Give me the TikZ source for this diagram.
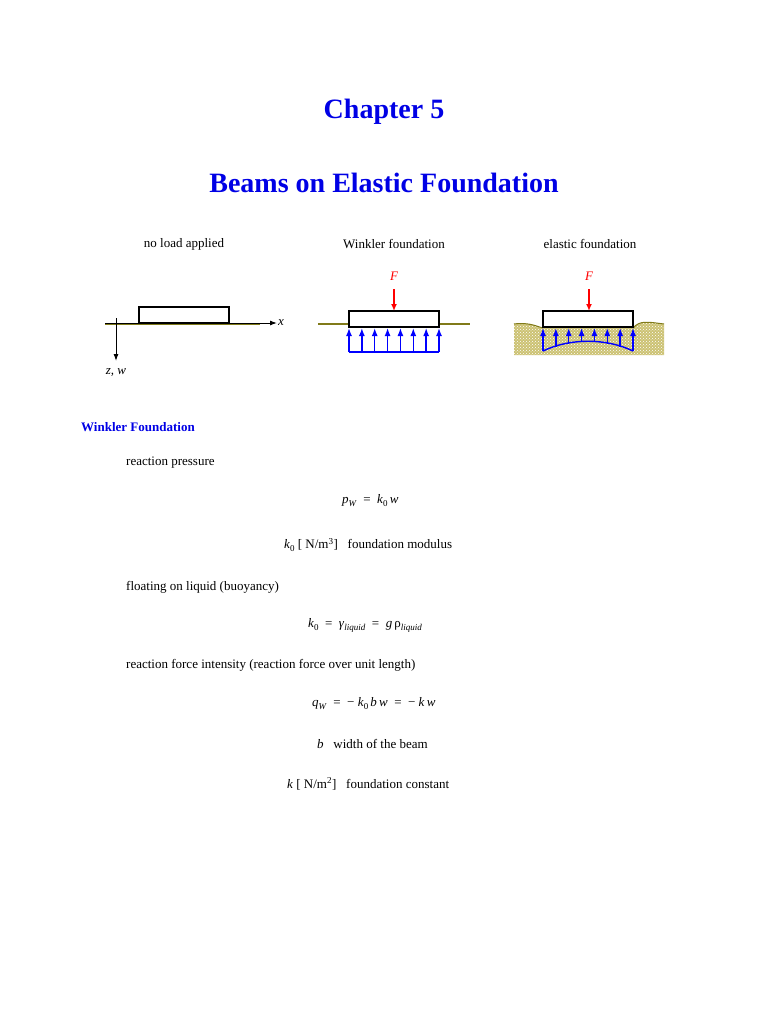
\documentclass[tikz,border=0pt]{standalone}
\usepackage{fontspec}
\setmainfont{Liberation Serif}
\usetikzlibrary{arrows.meta,patterns}
\definecolor{ttl}{rgb}{0,0,0.9}
\definecolor{soil}{rgb}{0.80,0.76,0.45}
\definecolor{olv}{rgb}{0.5,0.48,0.1}
\tikzset{
  txt/.style={anchor=west,inner sep=0pt,font=\fontsize{13}{15}\selectfont},
  ttlnode/.style={text=ttl,font=\fontsize{28}{32}\selectfont\bfseries},
  beam/.style={draw=black,line width=1.6pt,fill=white},
  load/.style={draw=red,line width=1.4pt,-{Latex[length=7pt,width=6pt]}},
  react/.style={draw=blue,line width=1.4pt,-{Latex[length=8pt,width=6pt]}}
}
\begin{document}
\begin{tikzpicture}[x=1pt,y=-1pt]
\useasboundingbox (0,0) rectangle (768,1024);
% titles
\node[ttlnode] (chap) at (384,112) {Chapter 5};
\node[ttlnode] (ttl) at (384,183) {Beams on Elastic Foundation};
\begin{scope}[every node/.style={font=\fontsize{13}{15}\selectfont}]
    \node (l1) at (184,244) {no load applied};
    \node (l2) at (394,244) {Winkler foundation};
    \node (l3) at (590,244) {elastic foundation};
\end{scope}
% no load
\draw[olv,line width=1.4pt] (105,324.5) -- (260,324.5);
\coordinate (o) at (105,323);
\coordinate (xe) at (277,323);
\coordinate (zs) at (116,318);
\coordinate (ze) at (116,361);
\draw[line width=1pt,-{Latex[length=7pt,width=5pt]}] (o) -- (xe);
\node[anchor=west,inner sep=1pt,font=\fontsize{13}{15}\selectfont\itshape] (xl) at (xe) {x};
\draw[line width=1pt,-{Latex[length=7pt,width=5pt]}] (zs) -- (ze);
\node[font=\fontsize{13}{15}\selectfont\itshape] (zl) at (116,373) {z, w};
\draw[beam] (139,307) rectangle (229,323);
% winkler
\draw[olv,line width=1.4pt] (318,324) -- (470,324);
\draw[beam] (349,311) rectangle (439,327);
\node[text=red,font=\fontsize{13}{15}\selectfont\itshape] (f1) at (394,276) {F};
\draw[load] (394,289) -- (394,311);
\draw[blue,line width=1.4pt] (349,352) -- (439,352);
\foreach \i in {0,...,7}
    \draw[react] (349+\i*12.857,352) -- (349+\i*12.857,328);
% elastic
\fill[soil] (514,324) .. controls (530,322) and (538,327) .. (543,328) -- (633,328)
    .. controls (640,320) and (648,322) .. (664,324) -- (664,355) -- (514,355) -- cycle;
\fill[pattern=crosshatch dots,pattern color=white] (514,324) .. controls (530,322) and (538,327) .. (543,328) -- (633,328)
    .. controls (640,320) and (648,322) .. (664,324) -- (664,355) -- (514,355) -- cycle;
\draw[olv,line width=1pt] (514,324) .. controls (530,322) and (538,327) .. (543,328);
\draw[olv,line width=1pt] (633,328) .. controls (640,320) and (648,322) .. (664,324);
\draw[beam] (543,311) rectangle (633,327);
\node[text=red,font=\fontsize{13}{15}\selectfont\itshape] (f2) at (589,276) {F};
\draw[load] (589,289) -- (589,311);
\draw[blue,line width=1.4pt] (543,351) .. controls (570,338) and (606,338) .. (633,351);
\foreach \i/\y in {0/351,1/346.5,2/343.5,3/342,4/342,5/343.5,6/346.5,7/351}
    \draw[react] (543+\i*12.857,\y) -- (543+\i*12.857,328);
% text
\node[txt,text=ttl,font=\fontsize{13}{15}\selectfont\bfseries] (wf) at (81,427) {Winkler Foundation};
\node[txt] (t1) at (126,463) {reaction pressure};
\node[txt] (e1) at (342,501) {\textit{p}\raisebox{-3pt}{\fontsize{9}{10}\selectfont\textit{W}}\ \ =\ \ \textit{k}\raisebox{-3pt}{\fontsize{9}{10}\selectfont 0}\,\textit{w}};
\node[txt] (e2) at (284,545) {\textit{k}\raisebox{-3pt}{\fontsize{9}{10}\selectfont 0} [ N/m\textsuperscript{3}]\ \ \ foundation modulus};
\node[txt] (t2) at (126,587) {floating on liquid (buoyancy)};
\node[txt] (e3) at (308,625) {\textit{k}\raisebox{-3pt}{\fontsize{9}{10}\selectfont 0}\ \ =\ \ \textit{γ}\raisebox{-3pt}{\fontsize{9}{10}\selectfont\textit{liquid}}\ \ =\ \ \textit{g}\,ρ\raisebox{-3pt}{\fontsize{9}{10}\selectfont\textit{liquid}}};
\node[txt] (t3) at (126,665) {reaction force intensity (reaction force over unit length)};
\node[txt] (e4) at (312,704) {\textit{q}\raisebox{-3pt}{\fontsize{9}{10}\selectfont\textit{W}}\ \ =\ \ − \textit{k}\raisebox{-3pt}{\fontsize{9}{10}\selectfont 0}\,\textit{b}\,\textit{w}\ \ =\ \ − \textit{k}\,\textit{w}};
\node[txt] (e5) at (317,744) {\textit{b}\ \ \ width of the beam};
\node[txt] (e6) at (287,784) {\textit{k} [ N/m\textsuperscript{2}]\ \ \ foundation constant};
\end{tikzpicture}
\end{document}
